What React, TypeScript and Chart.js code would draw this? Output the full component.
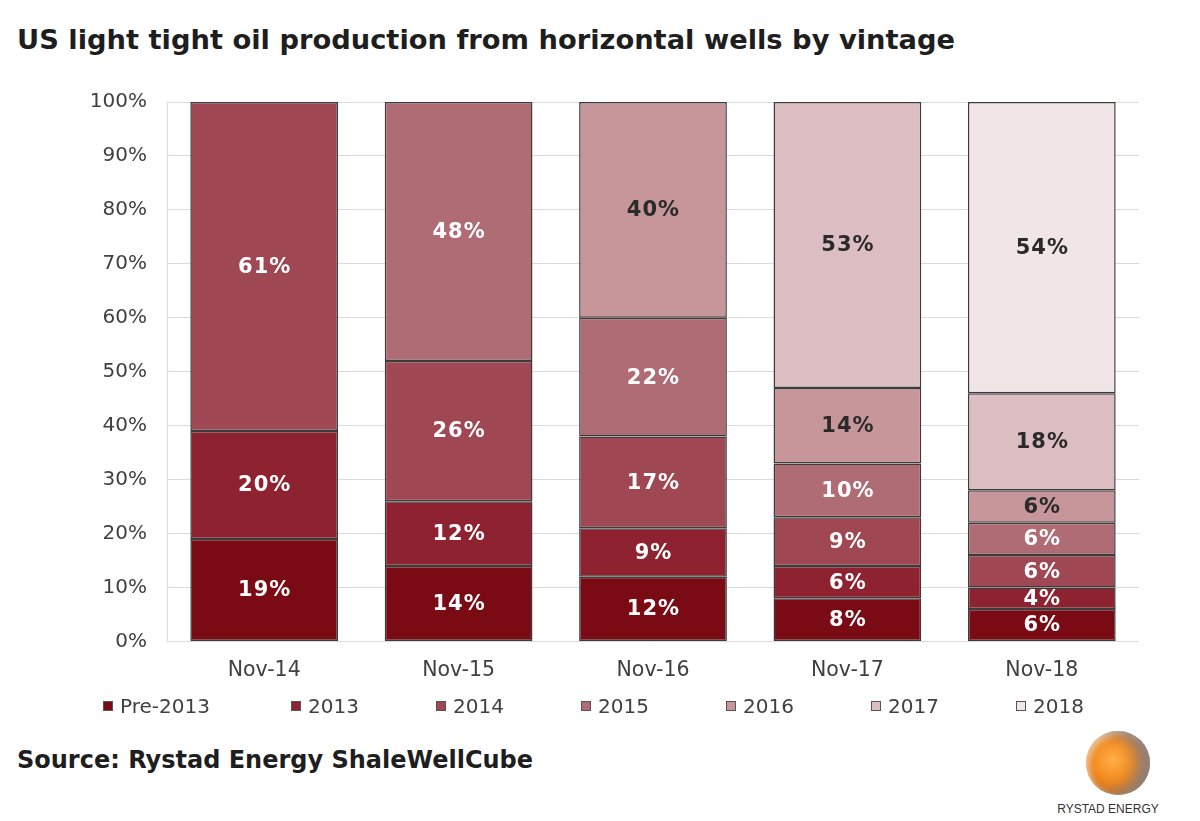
import React, { useEffect, useRef } from "react";
import { Chart, registerables } from "chart.js";

Chart.register(...registerables);

const categories = ["Nov-14", "Nov-15", "Nov-16", "Nov-17", "Nov-18"];
const vintages = ["Pre-2013", "2013", "2014", "2015", "2016", "2017", "2018"];
const pre2013 = [19, 14, 12, 8, 6];
const v2013 = [20, 12, 9, 6, 4];
const v2014 = [61, 26, 17, 9, 6];
const v2015 = [null, 48, 22, 10, 6];
const v2016 = [null, null, 40, 14, 6];
const v2017 = [null, null, null, 53, 18];
const v2018 = [null, null, null, null, 54];
const seriesValues = [pre2013, v2013, v2014, v2015, v2016, v2017, v2018];
const yTickValues = [0, 10, 20, 30, 40, 50, 60, 70, 80, 90, 100];

const fillColors = ["#7a0a14", "#8e2231", "#9f4753", "#b06c75", "#c7969b", "#dcbdc1", "#f2e5e7"];
const labelColors = ["#ffffff", "#ffffff", "#ffffff", "#ffffff", "#2a2a2a", "#2a2a2a", "#2a2a2a"];

const FONT = '"DejaVu Sans", Verdana, sans-serif';

const segmentLabels = {
  id: "segmentLabels",
  afterDatasetsDraw(chart: any) {
    const ctx = chart.ctx;
    ctx.save();
    ctx.font = `bold 21px ${FONT}`;
    try {
      (ctx as any).letterSpacing = "1px";
    } catch (e) {}
    ctx.textAlign = "center";
    ctx.textBaseline = "middle";
    chart.data.datasets.forEach((ds: any, i: number) => {
      const meta = chart.getDatasetMeta(i);
      meta.data.forEach((el: any, j: number) => {
        const v = ds.data[j];
        if (v == null) return;
        const p = el.getProps(["x", "y", "base"], true);
        ctx.fillStyle = labelColors[i];
        ctx.fillText(`${v}%`, p.x + 0.5, (p.y + p.base) / 2 + 1);
      });
    });
    ctx.restore();
  },
};

function ChartCanvas() {
  const ref = useRef<HTMLCanvasElement | null>(null);
  useEffect(() => {
    if (!ref.current) return;
    const chart = new Chart(ref.current, {
      type: "bar",
      data: {
        labels: categories,
        datasets: vintages.map((name, i) => ({
          label: name,
          data: seriesValues[i] as any,
          backgroundColor: fillColors[i],
          borderColor: "#3c3c3c",
          borderWidth: 1.5,
          borderSkipped: false,
          barPercentage: 0.76,
          categoryPercentage: 1,
        })),
      },
      options: {
        responsive: false,
        animation: false,
        devicePixelRatio: 1,
        layout: { padding: { left: 0, right: 61, top: 102, bottom: 8 } },
        plugins: {
          legend: { display: false },
          tooltip: { enabled: false },
          title: { display: false },
        },
        scales: {
          x: {
            stacked: true,
            grid: { display: false },
            border: { display: false },
            ticks: { color: "#404040", padding: 9, font: { family: FONT, size: 20.5 } },
          },
          y: {
            stacked: true,
            min: 0,
            max: 100,
            afterFit: (scale: any) => {
              scale.width = 167;
            },
            afterBuildTicks: (scale: any) => {
              scale.ticks = yTickValues.map((v) => ({ value: v }));
            },
            grid: { color: "#dadada", lineWidth: 1, drawTicks: false },
            border: { display: true, color: "#dadada" },
            ticks: {
              color: "#404040",
              padding: 20,
              font: { family: FONT, size: 20 },
              callback: (v: any) => `${v}%`,
            },
          },
        },
      },
      plugins: [segmentLabels],
    });
    return () => chart.destroy();
  }, []);
  return <canvas ref={ref} width={1200} height={700} style={{ position: "absolute", left: 0, top: 0 }} />;
}

export default function App() {
  return (
    <div style={{ position: "absolute", left: 0, top: 0, width: 1200, height: 821, background: "#fff", overflow: "hidden" }}>
      <div
        style={{
          position: "absolute",
          left: 17,
          top: 24,
          fontFamily: FONT,
          fontWeight: "bold",
          fontSize: 27.3,
          lineHeight: "32px",
          color: "#1e1e1e",
          whiteSpace: "nowrap",
        }}
      >
        US light tight oil production from horizontal wells by vintage
      </div>
      <ChartCanvas />
      <div
        style={{
          position: "absolute",
          left: 103,
          top: 694,
          display: "flex",
          fontFamily: FONT,
          fontSize: 20,
          lineHeight: "24px",
          color: "#404040",
          whiteSpace: "nowrap",
        }}
      >
        {vintages.map((v, i) => (
          <div key={v} style={{ width: i === 0 ? 188 : 145, display: "flex", alignItems: "center" }}>
            <span
              style={{
                display: "inline-block",
                width: 10,
                height: 10,
                boxSizing: "border-box",
                background: fillColors[i],
                border: "1px solid #555",
                marginRight: 7,
              }}
            />
            {v}
          </div>
        ))}
      </div>
      <div
        style={{
          position: "absolute",
          left: 17,
          top: 745,
          fontFamily: FONT,
          fontWeight: "bold",
          fontSize: 24,
          lineHeight: "30px",
          color: "#1e1e1e",
          whiteSpace: "nowrap",
        }}
      >
        Source: Rystad Energy ShaleWellCube
      </div>
      <div
        style={{
          position: "absolute",
          left: 1086,
          top: 731,
          width: 64,
          height: 64,
          borderRadius: "50%",
          overflow: "hidden",
          background:
            "radial-gradient(circle at 42% 45%, #ffb04a 0%, #f28a1e 40%, #d06e18 70%, #8a5d3a 100%)",
          boxShadow: "inset -12px 0 14px rgba(130,130,140,0.85), inset 3px 3px 6px rgba(255,255,255,0.6)",
        }}
      />
      <div
        style={{
          position: "absolute",
          left: 1056,
          top: 801,
          width: 104,
          textAlign: "center",
          fontFamily: '"Liberation Sans", sans-serif',
          fontSize: 12,
          lineHeight: "16px",
          color: "#333",
          whiteSpace: "nowrap",
        }}
      >
        RYSTAD ENERGY
      </div>
    </div>
  );
}
